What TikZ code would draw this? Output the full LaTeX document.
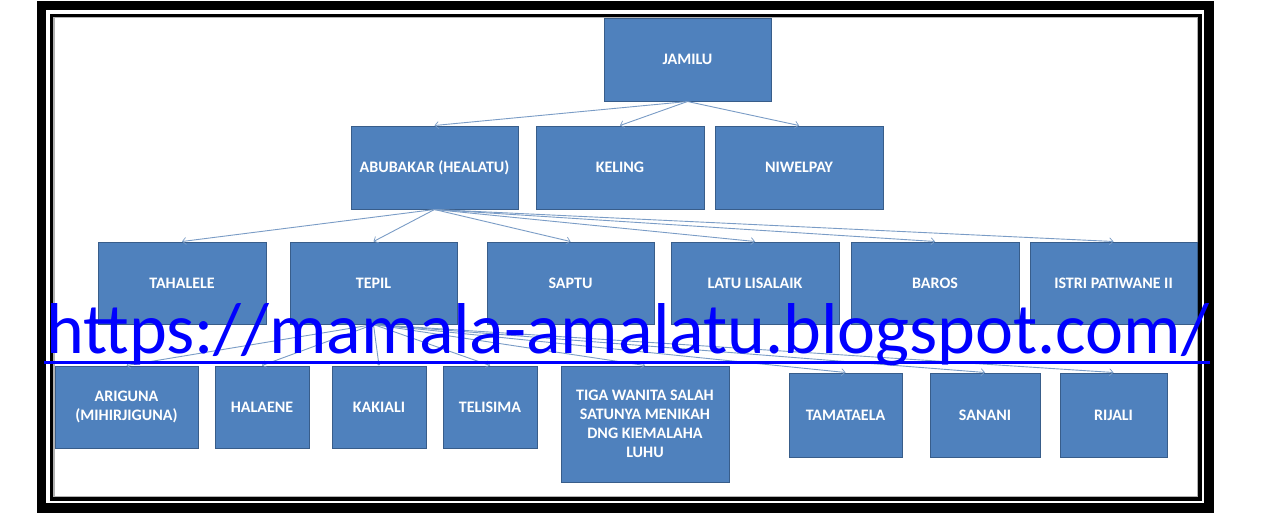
\documentclass[tikz,border=0pt]{standalone}
\usepackage{fontspec}
\setmainfont{Carlito}
\usetikzlibrary{arrows.meta}
\definecolor{boxfill}{RGB}{79,129,189}
\definecolor{boxline}{RGB}{56,93,138}
\definecolor{conn}{RGB}{122,156,198}
\definecolor{linkblue}{RGB}{0,0,255}
\tikzset{
  box/.style={rectangle, fill=boxfill, draw=boxline, line width=1pt, inner sep=0pt,
    text=white, font=\fontsize{16}{19.2}\selectfont\bfseries, align=center},
  conn/.style={draw=conn, line width=0.9pt, -{Straight Barb[length=3.5pt,width=7pt,line width=0.7pt]}},
}
\begin{document}
\begin{tikzpicture}[x=1pt,y=-1pt]
\useasboundingbox (0,0) rectangle (1267,514);
\fill[white] (0,0) rectangle (1267,514);
% frame
\fill[black] (37,1) rectangle (1214,513);
\fill[white] (46,10) rectangle (1204,503);
\fill[black] (50,14) rectangle (1202,501);
\fill[gray!60] (53,17) rectangle (1198,497);
\fill[white] (55,18) rectangle (1197,496);
% boxes
\node[box, minimum width=167pt, minimum height=83pt] (jamilu) at (687.5,59.5) {JAMILU};
\node[box, minimum width=167pt, minimum height=83pt] (abubakar) at (434.5,167.5) {ABUBAKAR (HEALATU)};
\node[box, minimum width=168pt, minimum height=83pt] (keling) at (620,167.5) {KELING};
\node[box, minimum width=168pt, minimum height=83pt] (niwelpay) at (799,167.5) {NIWELPAY};
\node[box, minimum width=168pt, minimum height=82pt] (tahalele) at (182,283) {TAHALELE};
\node[box, minimum width=167pt, minimum height=82pt] (tepil) at (373.5,283) {TEPIL};
\node[box, minimum width=167pt, minimum height=82pt] (saptu) at (570.5,283) {SAPTU};
\node[box, minimum width=168pt, minimum height=82pt] (latu) at (755,283) {LATU LISALAIK};
\node[box, minimum width=168pt, minimum height=82pt] (baros) at (935,283) {BAROS};
\node[box, minimum width=167pt, minimum height=82pt] (istri) at (1113.5,283) {ISTRI PATIWANE II};
\node[box, minimum width=143pt, minimum height=82pt] (ariguna) at (126.5,407) {ARIGUNA\\(MIHIRJIGUNA)};
\node[box, minimum width=94pt, minimum height=82pt] (halaene) at (262,407) {HALAENE};
\node[box, minimum width=94pt, minimum height=82pt] (kakiali) at (379,407) {KAKIALI};
\node[box, minimum width=94pt, minimum height=82pt] (telisima) at (490,407) {TELISIMA};
\node[box, minimum width=168pt, minimum height=116pt] (tiga) at (645,424) {TIGA WANITA SALAH\\SATUNYA MENIKAH\\DNG KIEMALAHA\\LUHU};
\node[box, minimum width=113pt, minimum height=84pt] (tamataela) at (845.5,415) {TAMATAELA};
\node[box, minimum width=110pt, minimum height=84pt] (sanani) at (985,415) {SANANI};
\node[box, minimum width=107pt, minimum height=84pt] (rijali) at (1113.5,415) {RIJALI};
% connectors
\foreach \c in {abubakar,keling,niwelpay}
  \draw[conn] (jamilu.south) -- (\c.north);
\foreach \c in {tahalele,tepil,saptu,latu,baros,istri}
  \draw[conn] (abubakar.south) -- (\c.north);
\foreach \c in {ariguna,halaene,kakiali,telisima,tiga,tamataela,sanani,rijali}
  \draw[conn] (tepil.south) -- (\c.north);
% link text
\node[anchor=base west, inner sep=0pt, text=linkblue, font=\fontsize{72}{80}\selectfont] (link) at (46,353) {https://mamala-amalatu.blogspot.com/};
\draw[linkblue, line width=3pt] ([xshift=-2pt,yshift=-9pt]link.base west) -- ([xshift=1pt,yshift=-9pt]link.base east);
\end{tikzpicture}
\end{document}
